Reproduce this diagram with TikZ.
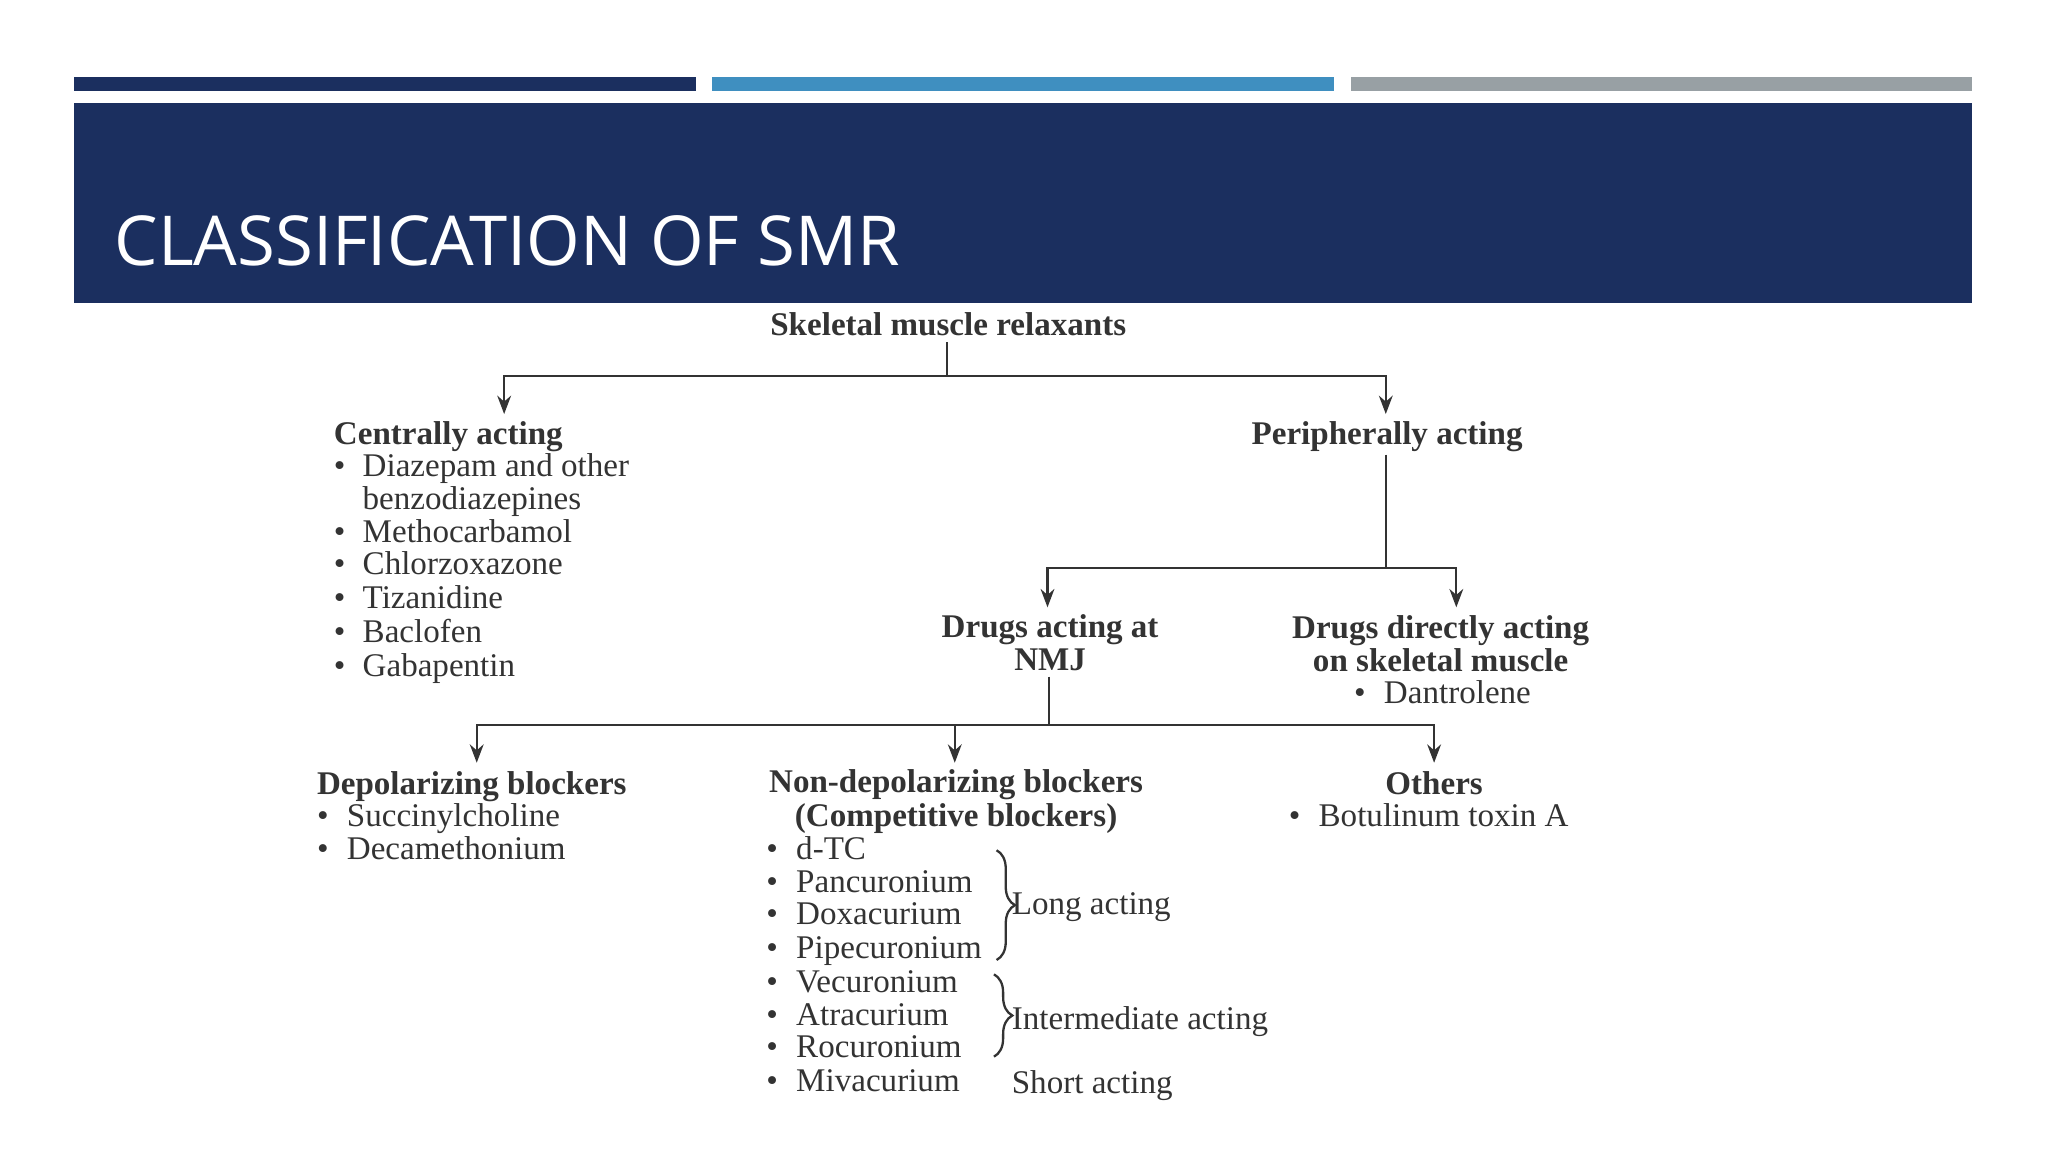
\documentclass[tikz,border=0pt]{standalone}
\usepackage{fontspec}
\setmainfont{Liberation Serif}
\newfontfamily\titlefont{Open Sans}
\usetikzlibrary{arrows.meta,decorations.pathreplacing}
\definecolor{navy}{HTML}{1B2F5F}
\definecolor{lblue}{HTML}{3F8FC0}
\definecolor{gbar}{HTML}{98A0A4}
\definecolor{ink}{HTML}{333333}
\begin{document}
\begin{tikzpicture}[x=0.01cm,y=-0.01cm,
  t/.style={inner sep=0pt,anchor=base west,text=ink,font=\fontsize{7.2}{8}\selectfont},
  h/.style={inner sep=0pt,anchor=base,text=ink,font=\fontsize{7.2}{8}\selectfont\bfseries},
  hl/.style={h,anchor=base west},
  ln/.style={draw=ink,line width=0.5pt},
  ar/.style={ln,-{Stealth[length=4pt,width=3pt]}}]
\useasboundingbox (0,0) rectangle (1568,882);
\fill[navy] (57,59) rectangle (533,70);
\fill[lblue] (545,59) rectangle (1021,70);
\fill[gbar] (1034,59) rectangle (1510,70);
\fill[navy] (57,79) rectangle (1510,232);
\node[inner sep=0pt,anchor=base west,text=white,font=\titlefont\fontsize{15}{18}\selectfont] (title) at (87,203) {CLASSIFICATION OF SMR};
% tree
\node[h] (root) at (726,257) {Skeletal muscle relaxants};
\node[hl] (ca) at (255,340) {Centrally acting};
\foreach \y/\s in {365/Diazepam and other,415/Methocarbamol,440/Chlorzoxazone,466/Tizanidine,492/Baclofen,518/Gabapentin}{
  \node[t] at (255,\y) {•};}
\node[t] (c1) at (277,365) {Diazepam and other};
\node[t] (c1b) at (277,390) {benzodiazepines};
\node[t] (c2) at (277,415) {Methocarbamol};
\node[t] (c3) at (277,440) {Chlorzoxazone};
\node[t] (c4) at (277,466) {Tizanidine};
\node[t] (c5) at (277,492) {Baclofen};
\node[t] (c6) at (277,518) {Gabapentin};
\node[h] (pa) at (1062,340) {Peripherally acting};
\coordinate (r0) at (725,262); \coordinate (r1) at (725,288);
\draw[ln] (r0)--(r1);
\draw[ar] (r1)--(386,288)--(386,317);
\draw[ar] (r1)--(1061,288)--(1061,317);
\coordinate (p0) at (1061,348); \coordinate (p1) at (1061,435);
\draw[ln] (p0)--(p1);
\draw[ar] (p1)--(802,435)--(802,465);
\draw[ar] (p1)--(1115,435)--(1115,465);
\node[h] (nmj) at (804,488) {Drugs acting at};
\node[h] (nmj2) at (804,513) {NMJ};
\node[h] (dd) at (1103,489) {Drugs directly acting};
\node[h] (dd2) at (1103,514) {on skeletal muscle};
\node[t] (dan) at (1036,539) {•\hspace{4pt}Dantrolene};
\coordinate (n0) at (803,518); \coordinate (n1) at (803,555);
\draw[ln] (n0)--(n1);
\draw[ar] (n1)--(365,555)--(365,584);
\draw[ar] (731,555)--(731,584);
\draw[ar] (n1)--(1098,555)--(1098,584);
\node[hl] (dep) at (242,608) {Depolarizing blockers};
\node[t] (d1) at (242,633) {•\hspace{4pt}Succinylcholine};
\node[t] (d2) at (242,658) {•\hspace{4pt}Decamethonium};
\node[h] (nd) at (732,607) {Non-depolarizing blockers};
\node[h] (nd2) at (732,633) {(Competitive blockers)};
\foreach \y/\s [count=\i] in {658/d-TC,683/Pancuronium,708/Doxacurium,734/Pipecuronium,760/Vecuronium,785/Atracurium,810/Rocuronium,836/Mivacurium}{
  \node[t] (n\i) at (586,\y) {•\hspace{4pt}\s};}
\draw[ln,decorate,decoration={brace,amplitude=4pt}] (763,651)--(763,735);
\node[t] (long) at (774,700) {Long acting};
\draw[ln,decorate,decoration={brace,amplitude=4pt}] (761,746)--(761,809);
\node[t] (int) at (774,788) {Intermediate acting};
\node[t] (short) at (774,837) {Short acting};
\node[h] (oth) at (1098,608) {Others};
\node[t] (bot) at (986,633) {•\hspace{4pt}Botulinum toxin A};
\end{tikzpicture}
\end{document}
